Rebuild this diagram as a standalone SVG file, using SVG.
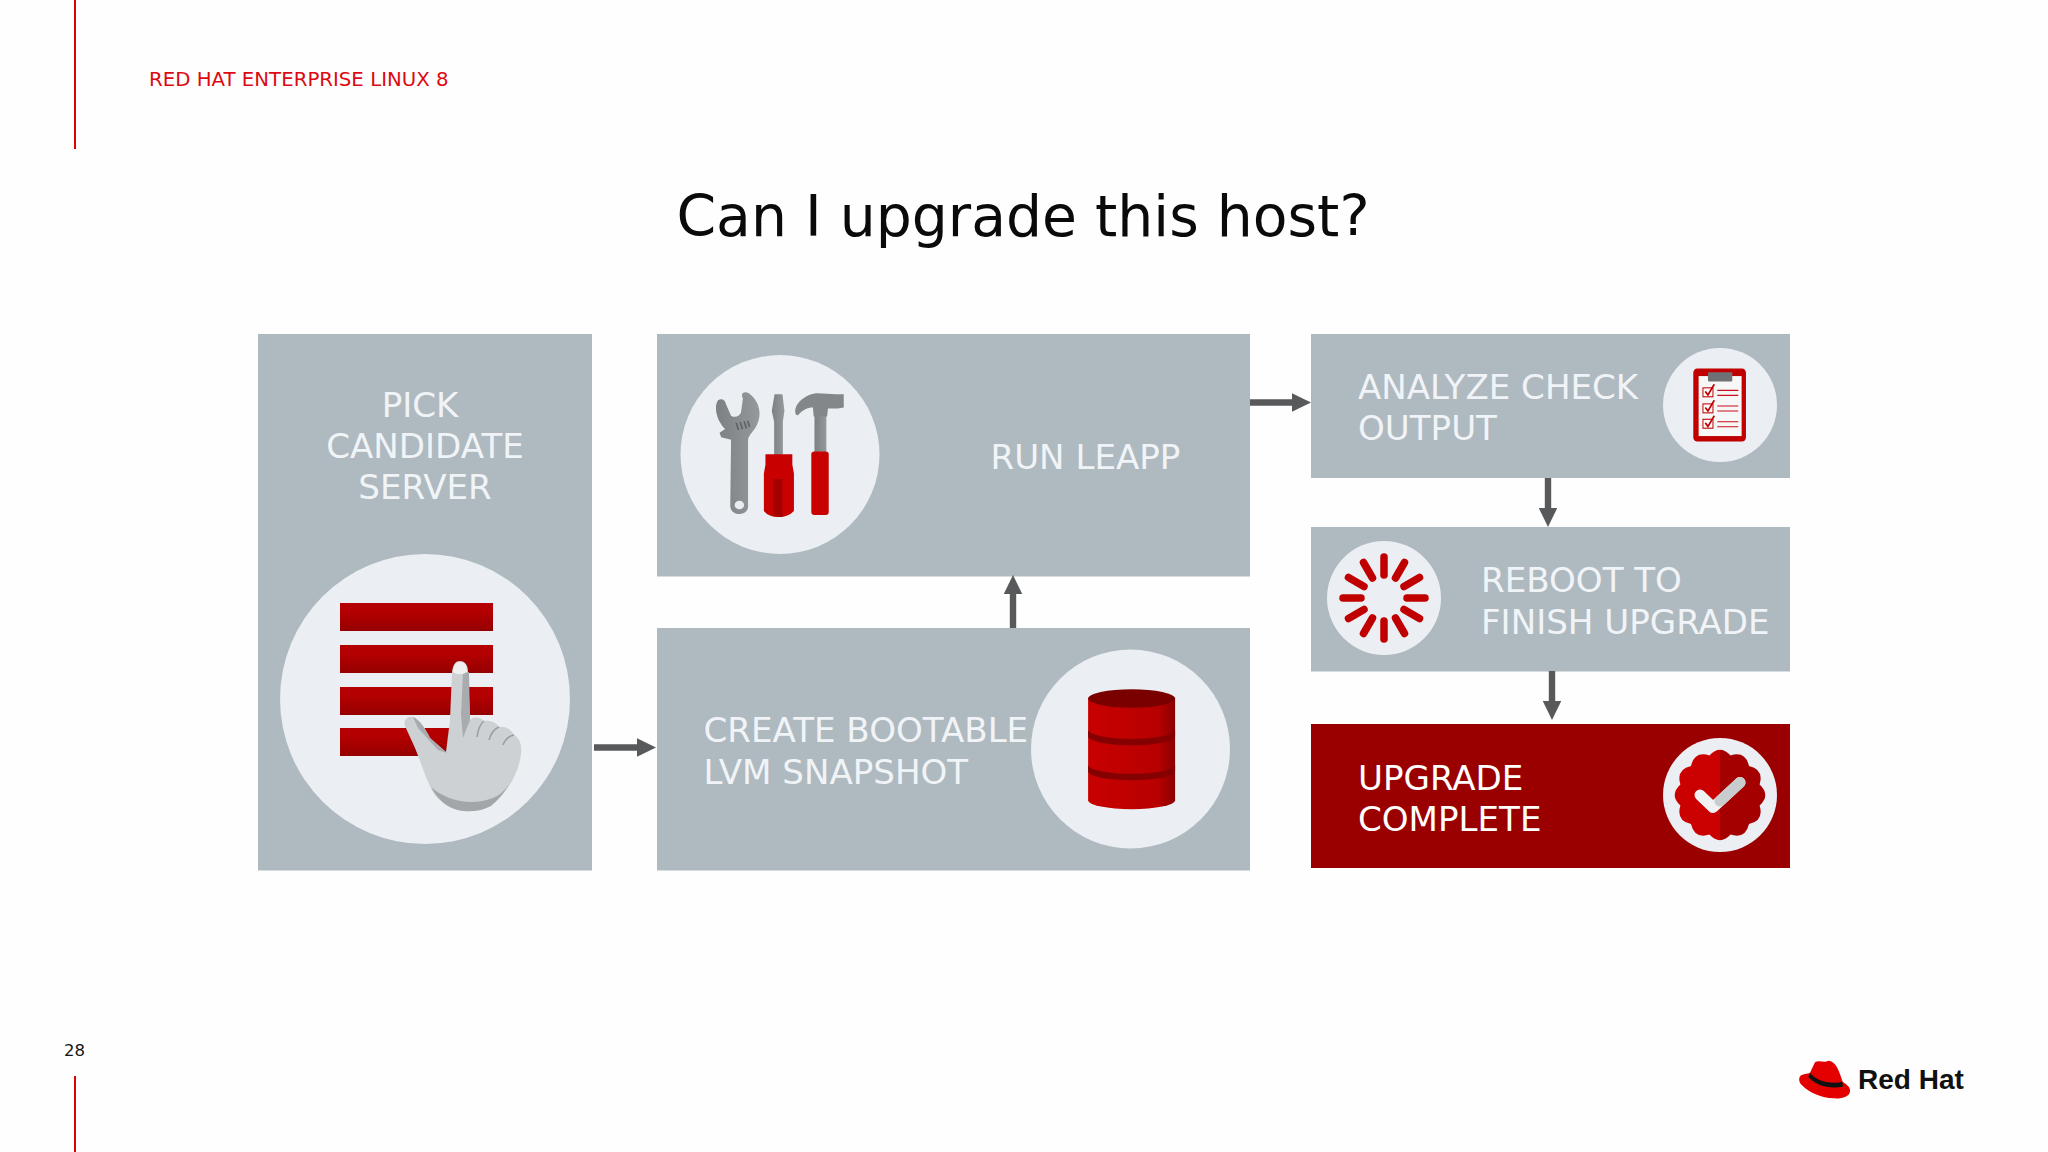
<svg xmlns="http://www.w3.org/2000/svg" width="2048" height="1152" viewBox="0 0 2048 1152">
<style>
text{font-family:"DejaVu Sans",sans-serif}
.box{fill:#afb9c0}
.disc{fill:#ebeef2}
.lbl{font-size:34.1px;fill:#f1f4f7}
.lblw{font-size:34.1px;fill:#fff}
.conn{stroke:#58595b;stroke-width:6.4;fill:none;marker-end:url(#ah)}
.bar{fill:url(#barG)}
.ray{stroke:#c00000;stroke-width:7.5;stroke-linecap:round}
.cl{stroke:#c8101a;stroke-width:3;fill:none}
.ck{fill:#fff;stroke:#c00000;stroke-width:3}
</style>
<defs>
<marker id="ah" markerUnits="userSpaceOnUse" markerWidth="19" markerHeight="18.6" viewBox="0 0 19 18.6" refX="0" refY="9.3" orient="auto"><path d="M0,0L19,9.3L0,18.6Z" fill="#58595b"/></marker>
<linearGradient id="barG" x1="0" y1="0" x2="0" y2="1"><stop offset=".3" stop-color="#b40000"/><stop offset="1" stop-color="#950000"/></linearGradient>
<linearGradient id="cyl" x1="0" y1="0" x2="1" y2="0"><stop offset="0" stop-color="#c80000"/><stop offset=".8" stop-color="#b80000"/><stop offset="1" stop-color="#8a0000"/></linearGradient>
<linearGradient id="seal" x1="0" y1="0" x2="1" y2="0"><stop offset=".5" stop-color="#cb0000"/><stop offset=".5" stop-color="#a50000"/></linearGradient>
<linearGradient id="gray" x1="0" y1="0" x2="1" y2="0"><stop offset="0" stop-color="#7d8083"/><stop offset="1" stop-color="#96999c"/></linearGradient>
</defs>
<rect width="2048" height="1152" fill="#fefefe"/>
<g id="chrome">
<rect x="74" y="0" width="2" height="149" fill="#e00000"/>
<rect x="74" y="1076" width="2" height="76" fill="#e00000"/>
<text x="149" y="86" font-size="19.75" fill="#dc0a12">RED HAT ENTERPRISE LINUX 8</text>
<text x="1023" y="235.500" font-size="56.8" fill="#0a0a0a" text-anchor="middle">Can I upgrade this host?</text>
<text x="64" y="1056" font-size="16.5" fill="#151515">28</text>
</g>
<g id="node-pick">
<rect class="box" x="258" y="334" width="334" height="536.500"/>
<text class="lbl" x="420" y="416.500" text-anchor="middle">PICK</text>
<text class="lbl" x="425" y="457.500" text-anchor="middle">CANDIDATE</text>
<text class="lbl" x="425" y="498.500" text-anchor="middle">SERVER</text>
<circle class="disc" cx="425" cy="699" r="145"/>
<rect class="bar" x="340" y="603" width="153" height="28"/>
<rect class="bar" x="340" y="645" width="153" height="28"/>
<rect class="bar" x="340" y="687" width="153" height="28"/>
<rect class="bar" x="340" y="728" width="153" height="28"/>
<path d="M452,672C453,664 456,661 460,661C465,661 468,665 468,672L470,720C474,716 480,717 484,721C490,720 496,722 499,727C505,726 511,729 514,735C520,738 522,746 521,754C519,770 512,784 500,797C490,808 478,811 468,811C452,811 440,803 433,792C425,777 421,762 415,748L405,726C403,720 408,716 413,717C420,720 425,728 430,738L446,752L450,720Z" fill="#cdd1d3"/>
<path d="M431,787C445,800 470,806 490,799C500,796 505,790 510,783C505,792 498,800 491,806C481,811 472,812 463,811C448,809 438,800 431,787Z" fill="#a3a6a9"/>
<path d="M470,720L469,672L463,672L461,715L463,738Z" fill="#a8acaf"/>
<path d="M413,717C420,720 425,728 430,738L447,753L438,750L418,728Z" fill="#a8acaf"/>
<path d="M453,672C454,664 456,662 460,662C465,662 467,665 467,672C463,675 457,675 453,672Z" fill="#f0f0f0"/>
<path d="M484,721C480,724 478,730 477,737M499,727C494,729 491,733 489,740M514,735C509,736 505,740 503,745" stroke="#9a9da0" stroke-width="1.5" fill="none"/>
</g>
<g id="node-run">
<rect class="box" x="657" y="334" width="593" height="242.5"/>
<circle class="disc" cx="780" cy="454.500" r="99.500"/>
<text class="lbl" x="990.500" y="469">RUN LEAPP</text>
<g transform="translate(650,320) scale(.3954,.3571)">
<path d="M203,520L205,335L180,328L176,316L190,305C170,285 160,245 172,225C180,218 190,222 192,235L205,268C215,275 225,270 230,260L235,220C228,205 238,198 250,205C275,225 285,260 270,295C262,312 250,322 248,335L248,520C250,550 203,552 203,520Z" fill="url(#gray)"/>
<ellipse cx="226" cy="518" rx="12" ry="12" fill="#e9edf3"/>
<path d="M218,288L224,308M228,286L234,306M238,284L244,304M247,282L252,300" stroke="#5d6063" stroke-width="4"/>
<path d="M315,208L335,208L340,255L336,285L336,378L314,378L314,285L308,255Z" fill="url(#gray)"/>
<path d="M292,376L360,376L360,405L364,430L364,535Q350,552 325,552Q300,552 288,535L288,430L292,405Z" fill="#c80000"/>
<path d="M312,445L335,445L335,552L325,552L312,548Z" fill="#a50000"/>
<path d="M416,250L446,250L446,370L416,370Z" fill="url(#gray)"/>
<path d="M368,262C362,235 395,205 425,205L470,208L490,208L490,245L475,248L450,248L448,270L414,270L412,245C398,245 385,252 375,266C372,268 369,266 368,262Z" fill="#84878a"/>
<rect x="408" y="368" width="44" height="178" rx="8" fill="#c80000"/>
</g>
</g>
<g id="node-create">
<rect class="box" x="657" y="628" width="593" height="242.500"/>
<circle class="disc" cx="1130.500" cy="749" r="99.500"/>
<text class="lbl" x="703.500" y="742">CREATE BOOTABLE</text>
<text class="lbl" x="703.500" y="783.500">LVM SNAPSHOT</text>
<g transform="translate(650,320) scale(.3954,.3571)">
<path d="M1108,1058V1345A110,25 0 0 0 1328,1345V1058Z" fill="url(#cyl)"/>
<ellipse cx="1218" cy="1060" rx="110" ry="26" fill="#7a0000"/>
<path d="M1108,1148A110,25 0 0 0 1328,1148V1166A110,25 0 0 1 1108,1166Z" fill="#850000"/>
<path d="M1108,1246A110,25 0 0 0 1328,1246V1264A110,25 0 0 1 1108,1264Z" fill="#850000"/>
</g>
</g>
<g id="node-analyze">
<rect class="box" x="1311" y="334" width="479" height="144"/>
<circle class="disc" cx="1720" cy="405" r="57"/>
<text class="lbl" x="1358" y="399">ANALYZE CHECK</text>
<text class="lbl" x="1358" y="440">OUTPUT</text>
<g transform="translate(1300,320) scale(.3333,.3571)">
<rect x="1180" y="136" width="158" height="204" rx="12" fill="#c00000"/>
<rect x="1196" y="157" width="129" height="168" fill="#f7f7f7"/>
<rect x="1224" y="146" width="73" height="26" rx="3" fill="#6f7275"/>
<rect class="ck" x="1209" y="190" width="30" height="25"/>
<rect class="ck" x="1209" y="235" width="30" height="25"/>
<rect class="ck" x="1209" y="278" width="30" height="25"/>
<path d="M1216,200L1224,210L1243,180M1216,245L1224,255L1243,225M1216,288L1224,298L1243,268" stroke="#c00000" stroke-width="5" fill="none"/>
<path class="cl" d="M1252,197H1315M1252,211H1315M1252,241H1315M1252,255H1315M1252,285H1315M1252,299H1315"/>
</g>
</g>
<g id="node-reboot">
<rect class="box" x="1311" y="527" width="479" height="144.500"/>
<circle class="disc" cx="1384" cy="598" r="57"/>
<text class="lbl" x="1481" y="592">REBOOT TO</text>
<text class="lbl" x="1481" y="633.500">FINISH UPGRADE</text>
<g transform="translate(1384,598)">
<path class="ray" d="M23,0H41M-23,0H-41M0,-23V-41M0,23V41M20,-11.500L35.500,-20.500M-20,-11.500L-35.500,-20.500M20,11.500L35.500,20.500M-20,11.500L-35.500,20.500M11.500,-20L20.500,-35.500M-11.500,-20L-20.500,-35.500M11.500,20L20.500,35.500M-11.500,20L-20.500,35.500"/>
</g>
</g>
<g id="node-complete">
<rect x="1311" y="724" width="479" height="144" fill="#9b0000"/>
<circle class="disc" cx="1720" cy="795" r="57"/>
<text class="lblw" x="1358" y="789.500">UPGRADE</text>
<text class="lblw" x="1358" y="831">COMPLETE</text>
<g transform="translate(1720,795)">
<path fill="url(#seal)" d="M39.600,-10.600Q51,0 39.600,10.600Q44.200,25.500 29,29Q25.500,44.200 10.600,39.600Q0,51 -10.600,39.600Q-25.500,44.200 -29,29Q-44.200,25.500 -39.600,10.600Q-51,0 -39.600,-10.600Q-44.200,-25.500 -29,-29Q-25.500,-44.200 -10.600,-39.600Q0,-51 10.600,-39.600Q25.500,-44.200 29,-29Q44.200,-25.500 39.600,-10.600Z"/>
<path d="M-20,0L-7,12.500L20,-12.500" fill="none" stroke="#f0f2f4" stroke-width="11" stroke-linecap="round" stroke-linejoin="round"/>
<path d="M0,6L20,-12.500" fill="none" stroke="#c9cccd" stroke-width="11" stroke-linecap="round"/>
</g>
</g>
<g id="connectors">
<path class="conn" d="M594,747.500H637"/>
<path class="conn" d="M1250,402.500H1292"/>
<path class="conn" d="M1013,628V594"/>
<path class="conn" d="M1548,478V508"/>
<path class="conn" d="M1552,671V701"/>
</g>
<g id="logo">
<g transform="translate(1760,1030) scale(.3333)">
<path d="M165,97C178,88 192,100 205,92C228,92 238,125 248,155C262,165 272,172 270,185C268,200 245,207 220,205C185,203 150,190 125,165C115,155 115,140 125,135C135,130 145,132 150,128Z" fill="#e50000"/>
<path d="M150,128C165,150 210,165 247,155L249,170C205,178 165,165 145,140Z" fill="#111"/>
</g>
<text x="1858" y="1089" font-size="28" font-weight="700" fill="#111" style="font-family:'Liberation Sans',sans-serif">Red Hat</text>
</g>
</svg>
